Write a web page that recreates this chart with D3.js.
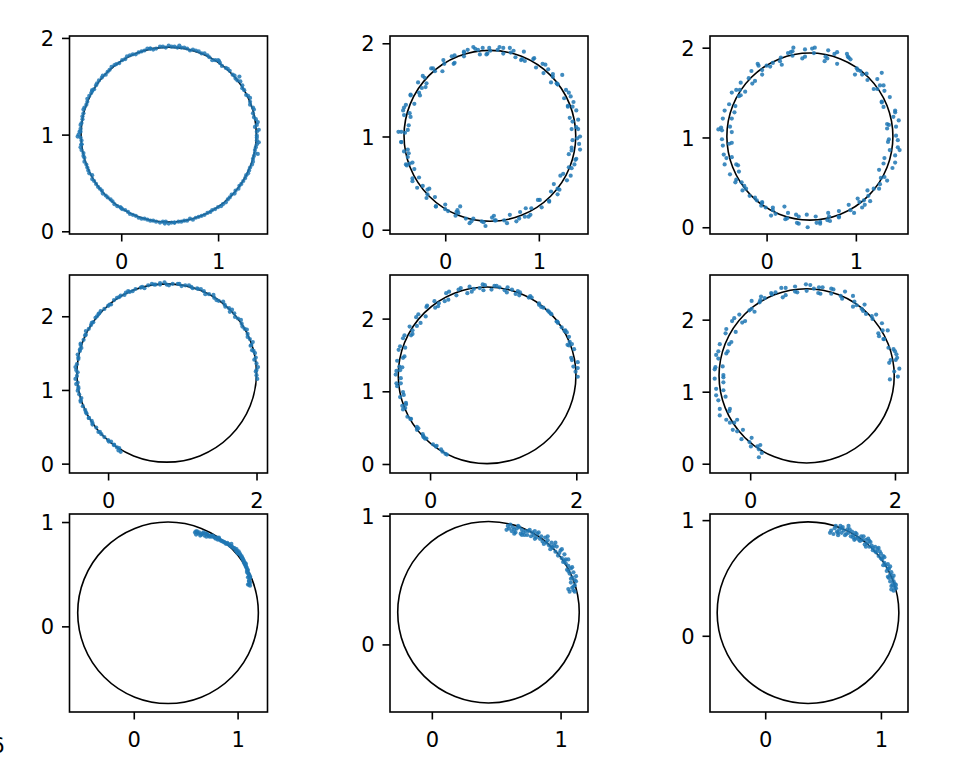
<!DOCTYPE html>
<html><head><meta charset="utf-8">
<script src="https://cdn.jsdelivr.net/npm/d3@7"></script>
<style>body{margin:0;background:#fff}svg{display:block}text{font-family:"DejaVu Sans",sans-serif}</style>
</head><body><svg id="c" width="980" height="770"></svg>
<script>
// ---- data: scatter points per panel [x, y] ----
const pts11 = [[1.40,0.99],[1.38,1.08],[1.41,1.13],[1.37,1.18],[1.37,1.26],[1.33,1.31],[1.33,1.38],[1.29,1.41],[1.25,1.48],[1.23,1.55],[1.18,1.58],[1.15,1.62],[1.10,1.68],[1.04,1.71],[1.01,1.76],[0.94,1.77],[0.89,1.82],[0.83,1.84],[0.77,1.87],[0.71,1.87],[0.65,1.90],[0.58,1.90],[0.52,1.91],[0.46,1.90],[0.40,1.91],[0.33,1.88],[0.27,1.89],[0.21,1.86],[0.15,1.83],[0.09,1.82],[0.04,1.78],[-0.02,1.74],[-0.07,1.72],[-0.12,1.67],[-0.16,1.62],[-0.20,1.59],[-0.25,1.53],[-0.28,1.47],[-0.31,1.43],[-0.35,1.37],[-0.36,1.31],[-0.39,1.26],[-0.40,1.19],[-0.41,1.12],[-0.42,1.06],[-0.44,1.00],[-0.41,0.94],[-0.42,0.87],[-0.39,0.81],[-0.38,0.76],[-0.36,0.69],[-0.34,0.63],[-0.30,0.58],[-0.28,0.52],[-0.24,0.46],[-0.20,0.42],[-0.16,0.37],[-0.11,0.33],[-0.07,0.28],[-0.01,0.25],[0.04,0.22],[0.09,0.18],[0.15,0.16],[0.21,0.13],[0.27,0.12],[0.33,0.11],[0.40,0.09],[0.46,0.10],[0.52,0.09],[0.59,0.10],[0.65,0.11],[0.71,0.13],[0.77,0.14],[0.83,0.16],[0.89,0.19],[0.94,0.22],[1.00,0.25],[1.05,0.28],[1.10,0.33],[1.14,0.38],[1.18,0.42],[1.22,0.47],[1.26,0.52],[1.29,0.58],[1.32,0.63],[1.35,0.69],[1.36,0.75],[1.38,0.81],[1.39,0.87],[1.40,0.94],
[1.40,1.03],[1.36,1.22],[1.31,1.40],[1.20,1.56],[1.08,1.69],[0.91,1.80],[0.74,1.88],[0.55,1.91],[0.36,1.89],[0.18,1.85],[0.01,1.77],[-0.14,1.65],[-0.26,1.51],[-0.35,1.34],[-0.40,1.16],[-0.42,0.97],[-0.39,0.78],[-0.33,0.60],[-0.22,0.44],[-0.09,0.31],[0.07,0.20],[0.24,0.13],[0.43,0.10],[0.62,0.10],[0.80,0.15],[0.97,0.23],[1.12,0.35],[1.24,0.49],[1.33,0.66],[1.38,0.84],
[1.40,1.10],[1.36,1.28],[1.27,1.46],[1.17,1.61],[1.02,1.74],[0.86,1.84],[0.68,1.89],[0.49,1.92],[0.30,1.89],[0.12,1.83],[-0.05,1.73],[-0.19,1.61],[-0.30,1.46],[-0.38,1.28],[-0.42,1.10],[-0.41,0.90],[-0.38,0.72],[-0.30,0.54],[-0.19,0.39],[-0.04,0.26],[0.12,0.17],[0.30,0.11],[0.49,0.08],[0.68,0.11],[0.86,0.17],[1.03,0.26],[1.17,0.39],[1.28,0.55],[1.36,0.72],[1.40,0.90],
[1.39,1.16],[1.33,1.34],[1.25,1.51],[1.12,1.66],[0.97,1.77],[0.80,1.86],[0.62,1.90],[0.43,1.91],[0.24,1.87],[0.06,1.81],[-0.10,1.70],[-0.23,1.56],[-0.33,1.40],[-0.39,1.22],[-0.42,1.03],[-0.41,0.84],[-0.35,0.66],[-0.26,0.49],[-0.14,0.35],[0.01,0.23],[0.18,0.14],[0.36,0.10],[0.55,0.09],[0.74,0.12],[0.92,0.20],[1.08,0.30],[1.21,0.44],[1.31,0.60],[1.37,0.78],[1.40,0.97],
[1.22,1.60],[1.42,1.05],[1.41,0.80],[0.60,1.92],[0.30,1.89],[-0.43,1.03],[-0.45,0.98],[0.45,0.08],[0.55,0.09],[-0.30,1.45],[0.00,0.24],[1.00,1.77],[1.42,0.92],[-0.41,0.90]];

const pts12 = [[1.41,0.98],[1.35,1.08],[1.42,1.18],[1.36,1.16],[1.40,1.28],[1.31,1.32],[1.34,1.43],[1.27,1.41],[1.29,1.50],[1.19,1.57],[1.20,1.56],[1.15,1.67],[1.05,1.68],[1.07,1.77],[0.97,1.74],[0.95,1.84],[0.85,1.81],[0.84,1.91],[0.75,1.85],[0.73,1.92],[0.62,1.89],[0.58,1.96],[0.48,1.92],[0.47,1.95],[0.37,1.88],[0.35,1.93],[0.24,1.93],[0.20,1.86],[0.10,1.87],[0.10,1.79],[-0.02,1.82],[-0.01,1.78],[-0.11,1.70],[-0.13,1.73],[-0.22,1.63],[-0.20,1.57],[-0.29,1.58],[-0.28,1.47],[-0.37,1.45],[-0.33,1.35],[-0.42,1.34],[-0.38,1.25],[-0.44,1.23],[-0.39,1.12],[-0.50,1.05],[-0.43,1.04],[-0.47,0.94],[-0.40,0.86],[-0.44,0.84],[-0.38,0.71],[-0.42,0.70],[-0.33,0.65],[-0.35,0.55],[-0.28,0.56],[-0.30,0.45],[-0.19,0.43],[-0.20,0.34],[-0.11,0.35],[-0.10,0.25],[0.00,0.27],[0.00,0.22],[0.11,0.15],[0.12,0.19],[0.16,0.25],[0.28,0.09],[0.30,0.12],[0.41,0.08],[0.43,0.04],[0.53,0.10],[0.54,0.10],[0.66,0.07],[0.69,0.16],[0.79,0.12],[0.80,0.19],[0.91,0.16],[0.92,0.23],[1.03,0.24],[1.01,0.32],[1.11,0.31],[1.13,0.41],[1.22,0.43],[1.20,0.44],[1.30,0.53],[1.26,0.60],[1.35,0.66],[1.32,0.67],[1.40,0.76],[1.35,0.85],[1.44,0.86],[1.36,0.96],
[1.42,1.08],[1.31,1.33],[1.32,1.47],[1.13,1.58],[1.04,1.78],[0.81,1.82],[0.69,1.95],[0.45,1.89],[0.32,1.94],[0.07,1.86],[-0.03,1.70],[-0.24,1.65],[-0.27,1.44],[-0.44,1.31],[-0.40,1.07],[-0.47,0.94],[-0.35,0.72],[-0.35,0.52],[-0.17,0.44],[-0.10,0.25],[0.13,0.21],[0.26,0.07],[0.50,0.13],[0.63,0.10],[0.89,0.14],[0.99,0.32],[1.20,0.38],[1.23,0.58],[1.39,0.75],[1.35,0.88],
[1.33,1.20],[1.36,1.32],[1.20,1.56],[1.15,1.64],[0.94,1.83],[0.82,1.83],[0.56,1.93],[0.44,1.88],[0.20,1.91],[0.09,1.78],[-0.15,1.73],[-0.21,1.53],[-0.37,1.44],[-0.37,1.21],[-0.47,1.05],[-0.39,0.82],[-0.41,0.69],[-0.24,0.47],[-0.19,0.38],[0.03,0.20],[0.14,0.18],[0.39,0.09],[0.52,0.15],[0.76,0.09],[0.86,0.23],[1.11,0.30],[1.16,0.49],[1.34,0.58],[1.32,0.81],[1.44,1.00],
[1.25,1.66],[1.43,0.92],[1.40,1.10],[0.62,1.95],[0.20,1.90],[0.30,1.96],[-0.45,1.28],[0.70,1.90],[1.38,0.70],[1.10,1.72],[-0.40,0.78],[0.22,0.12],[0.85,0.14],[-0.25,1.52],[0.40,1.95],[1.37,1.37]];

const pts13 = [[1.47,0.97],[1.35,1.10],[1.48,1.19],[1.37,1.14],[1.44,1.30],[1.31,1.34],[1.38,1.45],[1.29,1.40],[1.32,1.52],[1.20,1.54],[1.27,1.58],[1.12,1.71],[1.13,1.64],[1.01,1.77],[1.05,1.74],[0.92,1.89],[0.94,1.87],[0.79,1.82],[0.79,1.95],[0.68,1.88],[0.69,1.97],[0.53,1.94],[0.54,2.00],[0.43,1.90],[0.43,1.98],[0.29,1.91],[0.29,1.96],[0.15,1.85],[0.16,1.89],[0.04,1.79],[0.07,1.83],[-0.09,1.80],[-0.05,1.70],[-0.17,1.74],[-0.13,1.63],[-0.29,1.61],[-0.24,1.51],[-0.34,1.53],[-0.29,1.47],[-0.42,1.37],[-0.36,1.28],[-0.47,1.30],[-0.39,1.21],[-0.51,1.11],[-0.41,1.12],[-0.54,1.09],[-0.42,0.93],[-0.49,0.91],[-0.39,0.78],[-0.45,0.77],[-0.34,0.70],[-0.41,0.59],[-0.31,0.62],[-0.35,0.50],[-0.23,0.43],[-0.25,0.46],[-0.13,0.33],[-0.19,0.35],[-0.06,0.24],[-0.05,0.28],[0.07,0.22],[0.05,0.13],[0.20,0.23],[0.23,0.10],[0.24,0.16],[0.36,0.04],[0.36,0.12],[0.46,0.00],[0.55,0.12],[0.56,0.05],[0.70,0.12],[0.68,0.08],[0.81,0.18],[0.81,0.11],[0.94,0.19],[0.92,0.25],[1.07,0.22],[1.02,0.32],[1.16,0.29],[1.13,0.41],[1.26,0.43],[1.20,0.43],[1.32,0.56],[1.28,0.55],[1.41,0.66],[1.31,0.71],[1.44,0.72],[1.38,0.86],[1.49,0.86],[1.37,0.98],
[1.35,1.15],[1.44,1.28],[1.24,1.54],[1.24,1.65],[0.99,1.70],[0.91,1.90],[0.65,1.85],[0.51,1.99],[0.24,1.94],[0.17,1.81],[-0.10,1.82],[-0.16,1.60],[-0.39,1.50],[-0.35,1.35],[-0.50,1.08],[-0.39,0.94],[-0.47,0.70],[-0.28,0.50],[-0.27,0.41],[-0.01,0.22],[0.07,0.19],[0.34,0.05],[0.45,0.14],[0.71,0.07],[0.81,0.12],[1.09,0.30],[1.14,0.35],[1.35,0.52],[1.32,0.77],[1.47,0.89],
[1.45,1.12],[1.29,1.39],[1.31,1.58],[1.07,1.70],[1.02,1.75],[0.76,1.93],[0.66,1.90],[0.40,1.88],[0.27,1.95],[0.00,1.80],[-0.05,1.75],[-0.30,1.53],[-0.31,1.46],[-0.49,1.21],[-0.39,1.06],[-0.48,0.81],[-0.32,0.69],[-0.34,0.53],[-0.11,0.30],[-0.05,0.27],[0.21,0.09],[0.33,0.14],[0.60,0.04],[0.69,0.16],[0.98,0.16],[1.04,0.28],[1.27,0.48],[1.26,0.64],[1.44,0.80],[1.36,0.95],
[1.29,1.72],[1.45,1.02],[0.30,2.00],[-0.50,0.98],[0.60,0.06],[1.10,0.25],[-0.20,1.66],[0.90,1.93],[1.42,1.23],[0.10,0.15]];

const pts21 = [[2.01,1.15],[1.99,1.25],[2.02,1.31],[1.97,1.41],[1.98,1.50],[1.94,1.54],[1.95,1.65],[1.88,1.72],[1.87,1.82],[1.81,1.86],[1.79,1.95],[1.71,1.99],[1.67,2.09],[1.58,2.13],[1.55,2.20],[1.46,2.22],[1.42,2.29],[1.31,2.30],[1.25,2.37],[1.14,2.38],[1.09,2.42],[0.99,2.41],[0.94,2.44],[0.82,2.42],[0.76,2.46],[0.64,2.43],[0.59,2.44],[0.49,2.38],[0.44,2.39],[0.33,2.34],[0.27,2.34],[0.17,2.28],[0.12,2.25],[0.04,2.16],[0.00,2.14],[-0.10,2.07],[-0.13,2.03],[-0.20,1.92],[-0.23,1.88],[-0.30,1.80],[-0.31,1.74],[-0.37,1.63],[-0.36,1.57],[-0.41,1.48],[-0.40,1.42],[-0.44,1.31],[-0.41,1.24],[-0.44,1.15],[-0.40,1.04],[-0.41,0.99],[-0.36,0.89],[-0.37,0.84],[-0.31,0.73],[-0.29,0.68],[-0.22,0.58],[-0.21,0.53],[-0.13,0.43],[-0.09,0.40],[0.00,0.32],[0.04,0.30],[0.12,0.22],[0.17,0.16],
[2.00,1.27],[1.96,1.53],[1.88,1.76],[1.75,1.97],[1.57,2.16],[1.36,2.30],[1.12,2.40],[0.87,2.44],[0.62,2.43],[0.37,2.37],[0.15,2.26],[-0.05,2.10],[-0.22,1.91],[-0.33,1.68],[-0.40,1.44],[-0.42,1.19],[-0.39,0.94],[-0.30,0.70],[-0.16,0.49],[0.01,0.30],
[2.00,1.36],[1.93,1.61],[1.84,1.83],[1.70,2.04],[1.49,2.21],[1.29,2.34],[1.04,2.42],[0.79,2.43],[0.54,2.42],[0.29,2.33],[0.08,2.22],[-0.12,2.04],[-0.26,1.83],[-0.37,1.61],[-0.42,1.35],[-0.41,1.10],[-0.37,0.86],[-0.26,0.62],[-0.11,0.43],[0.08,0.25],
[1.99,1.44],[1.91,1.69],[1.80,1.90],[1.63,2.11],[1.43,2.25],[1.21,2.37],[0.96,2.44],[0.70,2.43],[0.46,2.40],[0.22,2.29],[0.02,2.16],[-0.17,1.98],[-0.30,1.75],[-0.38,1.53],[-0.43,1.27],[-0.40,1.02],[-0.34,0.78],[-0.21,0.55],[-0.05,0.36],[0.15,0.21],
[2.00,1.20],[1.92,1.60],[1.64,2.06],[1.20,2.38],[0.70,2.45],[0.24,2.32],[-0.15,2.00],[-0.38,1.55],[-0.43,1.08],[-0.26,0.62],[0.08,0.26],[0.14,0.18]];

const pts22 = [[2.02,1.20],[1.96,1.34],[2.02,1.40],[1.94,1.43],[1.97,1.58],[1.88,1.64],[1.91,1.68],[1.84,1.83],[1.85,1.84],[1.73,1.96],[1.74,1.96],[1.63,2.09],[1.61,2.11],[1.49,2.21],[1.49,2.19],[1.37,2.31],[1.35,2.29],[1.20,2.38],[1.17,2.34],[1.06,2.43],[1.02,2.39],[0.88,2.45],[0.84,2.40],[0.72,2.47],[0.68,2.42],[0.54,2.44],[0.51,2.35],[0.39,2.40],[0.36,2.32],[0.22,2.35],[0.20,2.24],[0.06,2.24],[0.07,2.15],[-0.05,2.16],[-0.06,2.03],[-0.19,2.02],[-0.18,1.90],[-0.28,1.89],[-0.26,1.77],[-0.37,1.73],[-0.34,1.60],[-0.43,1.57],[-0.37,1.46],[-0.45,1.42],[-0.41,1.29],[-0.47,1.23],[-0.40,1.11],[-0.45,1.07],[-0.36,0.95],[-0.41,0.92],[-0.34,0.77],[-0.37,0.75],[-0.26,0.62],[-0.27,0.62],[-0.16,0.49],[-0.18,0.47],[-0.07,0.35],[-0.05,0.35],[0.08,0.24],[0.09,0.25],[0.21,0.14],[0.23,0.13],
[2.02,1.32],[1.90,1.63],[1.87,1.81],[1.65,2.07],[1.52,2.16],[1.23,2.36],[1.05,2.36],[0.75,2.46],[0.57,2.37],[0.26,2.37],[0.11,2.17],[-0.16,2.06],[-0.24,1.79],[-0.41,1.62],[-0.38,1.33],[-0.46,1.11],[-0.33,0.82],[-0.31,0.65],[-0.09,0.37],[0.04,0.27],
[1.93,1.46],[1.94,1.65],[1.75,1.94],[1.66,2.06],[1.39,2.29],[1.22,2.32],[0.91,2.45],[0.73,2.39],[0.42,2.42],[0.25,2.26],[-0.04,2.18],[-0.13,1.94],[-0.35,1.77],[-0.35,1.48],[-0.46,1.28],[-0.37,0.99],[-0.38,0.80],[-0.18,0.51],[-0.09,0.38],[0.17,0.17],
[1.99,1.27],[1.90,1.75],[1.55,2.15],[1.12,2.40],[0.60,2.41],[0.12,2.21],[-0.24,1.84],[-0.42,1.34],[-0.33,0.84],[-0.10,0.41],[0.15,0.20],[1.80,1.88],[0.95,2.43],[-0.40,1.18]];

const pts23 = [[2.04,1.21],[1.93,1.17],[2.06,1.32],[1.94,1.44],[2.01,1.44],[1.91,1.61],[1.98,1.59],[1.84,1.73],[1.90,1.85],[1.77,1.81],[1.82,1.95],[1.68,2.05],[1.69,2.01],[1.54,2.15],[1.58,2.21],[1.42,2.18],[1.42,2.33],[1.25,2.33],[1.27,2.29],[1.12,2.43],[1.12,2.36],[0.95,2.45],[0.94,2.37],[0.77,2.49],[0.78,2.40],[0.62,2.46],[0.62,2.39],[0.43,2.44],[0.45,2.31],[0.29,2.37],[0.30,2.35],[0.13,2.24],[0.14,2.27],[-0.01,2.13],[0.02,2.15],[-0.15,2.07],[-0.11,1.96],[-0.25,1.98],[-0.20,1.83],[-0.34,1.81],[-0.29,1.66],[-0.42,1.66],[-0.33,1.53],[-0.47,1.51],[-0.38,1.35],[-0.48,1.34],[-0.37,1.20],[-0.49,1.18],[-0.37,1.02],[-0.47,0.95],[-0.34,0.93],[-0.42,0.76],[-0.28,0.76],[-0.33,0.61],[-0.18,0.61],[-0.24,0.47],[-0.10,0.47],[-0.12,0.34],[0.02,0.36],[0.01,0.24],[0.14,0.26],[0.16,0.15],
[1.92,1.40],[2.00,1.56],[1.78,1.77],[1.74,2.07],[1.44,2.25],[1.31,2.39],[0.97,2.36],[0.83,2.48],[0.49,2.34],[0.35,2.38],[0.02,2.26],[-0.07,1.98],[-0.33,1.87],[-0.31,1.56],[-0.49,1.31],[-0.37,1.13],[-0.44,0.88],[-0.22,0.57],[-0.18,0.45],[0.12,0.20],
[2.03,1.47],[1.85,1.73],[1.83,1.85],[1.56,2.12],[1.47,2.20],[1.15,2.42],[1.00,2.45],[0.65,2.38],[0.49,2.44],[0.15,2.32],[0.06,2.11],[-0.22,2.02],[-0.26,1.69],[-0.44,1.56],[-0.37,1.23],[-0.47,1.04],[-0.29,0.73],[-0.28,0.57],[-0.01,0.30],[0.10,0.24],
[0.12,0.09],[-0.42,0.67],[2.02,1.52],[1.60,2.08],[0.20,2.30],[-0.44,1.46],[0.88,2.43],[1.99,1.28]];

const pts31 = [[0.59,0.90],[0.60,0.88],[0.62,0.89],[0.63,0.90],[0.65,0.88],[0.66,0.89],[0.68,0.87],[0.69,0.89],[0.71,0.88],[0.72,0.87],[0.74,0.87],[0.75,0.86],[0.77,0.86],[0.78,0.85],[0.80,0.85],[0.81,0.83],[0.83,0.83],[0.84,0.82],[0.86,0.81],[0.87,0.81],[0.89,0.79],[0.90,0.80],[0.92,0.78],[0.93,0.77],[0.95,0.76],[0.96,0.75],[0.98,0.73],[0.99,0.74],[1.00,0.71],[1.01,0.72],[1.02,0.69],[1.03,0.68],[1.04,0.66],[1.05,0.65],[1.06,0.63],[1.06,0.61],[1.07,0.59],[1.08,0.57],[1.09,0.56],[1.10,0.54],[1.09,0.52],[1.11,0.50],[1.11,0.48],[1.12,0.46],[1.11,0.44],[1.12,0.42],[1.10,0.40],[1.12,0.39],[0.61,0.91],[0.70,0.86],[0.82,0.84],[0.94,0.79],[1.00,0.70],[1.08,0.60],[1.10,0.47],
[0.60,0.91],[0.64,0.87],[0.67,0.90],[0.70,0.89],[0.73,0.86],[0.76,0.87],[0.79,0.84],[0.82,0.85],[0.85,0.82],[0.88,0.80],[0.91,0.79],[0.94,0.77],[0.97,0.75],[0.99,0.72],[1.02,0.70],[1.04,0.67],[1.05,0.64],[1.07,0.61],[1.08,0.58],[1.09,0.54],[1.10,0.51],[1.12,0.48],[1.11,0.43],[1.11,0.40]];

const pts32 = [[0.60,0.90],[0.59,0.92],[0.62,0.88],[0.63,0.91],[0.65,0.87],[0.66,0.90],[0.67,0.92],[0.69,0.86],[0.70,0.89],[0.71,0.87],[0.73,0.88],[0.74,0.85],[0.75,0.88],[0.77,0.84],[0.78,0.87],[0.79,0.85],[0.81,0.83],[0.82,0.86],[0.84,0.82],[0.85,0.84],[0.86,0.80],[0.88,0.83],[0.89,0.79],[0.90,0.81],[0.91,0.77],[0.93,0.79],[0.94,0.75],[0.95,0.77],[0.96,0.72],[0.97,0.76],[0.99,0.71],[1.00,0.73],[1.01,0.67],[1.03,0.70],[1.02,0.64],[1.04,0.66],[1.06,0.61],[1.05,0.58],[1.08,0.59],[1.07,0.55],[1.10,0.56],[1.09,0.52],[1.11,0.50],[1.08,0.48],[1.11,0.46],[1.09,0.44],[1.10,0.42],[1.07,0.41],[0.64,0.89],[0.80,0.88],[0.92,0.74],[1.04,0.63],[1.12,0.53],
[0.58,0.89],[0.61,0.93],[0.64,0.86],[0.68,0.91],[0.72,0.85],[0.76,0.89],[0.80,0.82],[0.83,0.87],[0.87,0.78],[0.90,0.84],[0.93,0.76],[0.96,0.79],[0.98,0.69],[1.01,0.74],[1.03,0.65],[1.06,0.66],[1.06,0.57],[1.09,0.60],[1.08,0.51],[1.12,0.49],[1.10,0.45],[1.06,0.43],[1.11,0.41],[0.70,0.85]];

const pts33 = [[0.57,0.91],[0.59,0.88],[0.60,0.93],[0.62,0.90],[0.63,0.87],[0.64,0.92],[0.66,0.89],[0.67,0.94],[0.68,0.91],[0.70,0.88],[0.71,0.92],[0.72,0.89],[0.74,0.86],[0.75,0.90],[0.76,0.87],[0.78,0.84],[0.79,0.88],[0.80,0.85],[0.82,0.82],[0.83,0.86],[0.84,0.83],[0.86,0.79],[0.87,0.83],[0.88,0.80],[0.90,0.77],[0.91,0.81],[0.92,0.78],[0.93,0.74],[0.95,0.77],[0.96,0.72],[0.97,0.75],[0.98,0.69],[1.00,0.71],[1.01,0.66],[1.02,0.69],[1.03,0.63],[1.04,0.61],[1.06,0.62],[1.05,0.56],[1.07,0.58],[1.08,0.53],[1.09,0.55],[1.10,0.50],[1.08,0.47],[1.11,0.47],[1.09,0.43],[1.12,0.42],[1.11,0.39],[1.13,0.41],[0.65,0.95],[0.77,0.83],[0.89,0.84],[0.99,0.73],[1.06,0.51],[1.12,0.45],
[0.56,0.89],[0.61,0.95],[0.63,0.89],[0.66,0.93],[0.69,0.87],[0.73,0.92],[0.76,0.85],[0.78,0.89],[0.81,0.83],[0.85,0.86],[0.87,0.77],[0.90,0.82],[0.93,0.76],[0.95,0.73],[0.98,0.76],[1.00,0.67],[1.03,0.68],[1.02,0.61],[1.06,0.58],[1.08,0.60],[1.07,0.50],[1.11,0.52],[1.10,0.44],[1.13,0.44],[1.09,0.40],[0.72,0.95]];

// fitted circles [cx, cy, r]
const circles = [[0.49,1.00,0.905],[0.477,1.007,0.917],[0.485,1.01,0.93],
                 [0.79,1.23,1.21],[0.78,1.22,1.215],[0.78,1.22,1.21],
                 [0.33,0.13,0.87],[0.44,0.25,0.705],[0.37,0.20,0.785]];
// axis limits
const xDomains = [[-0.534,1.51],[-0.59,1.525],[-0.634,1.584],
                  [-0.52,2.148],[-0.548,2.16],[-0.555,2.18],
                  [-0.619,1.288],[-0.325,1.213],[-0.477,1.234]];
const yDomains = [[-0.028,2.02],[-0.046,2.078],[-0.075,2.13],
                  [-0.127,2.56],[-0.124,2.60],[-0.129,2.62],
                  [-0.821,1.077],[-0.525,1.013],[-0.659,1.053]];
// tick labels
const xTicks = [[0,1],[0,1],[0,1],[0,2],[0,2],[0,2],[0,1],[0,1],[0,1]];
const yTicks = [[0,1,2],[0,1,2],[0,1,2],[0,1,2],[0,1,2],[0,1,2],[0,1],[0,1],[0,1]];
const points = [pts11,pts12,pts13,pts21,pts22,pts23,pts31,pts32,pts33];

// ---- layout ----
const colLeft = [69.5, 390, 710];
const rowTop = [36, 275, 514];
const W = 198, H = 198;
const svg = d3.select("#c");
const FS = 21;

points.forEach((pts, i) => {
  const r = Math.floor(i / 3), c = i % 3;
  const L = colLeft[c], T = rowTop[r];
  const x = d3.scaleLinear().domain(xDomains[i]).range([L, L + W]);
  const y = d3.scaleLinear().domain(yDomains[i]).range([T + H, T]);
  const g = svg.append("g");
  g.append("rect").attr("x", L).attr("y", T).attr("width", W).attr("height", H).attr("fill", "#fff");
  const [cx, cy, rr] = circles[i];
  g.append("ellipse")
    .attr("cx", x(cx)).attr("cy", y(cy))
    .attr("rx", x(cx + rr) - x(cx)).attr("ry", y(cy) - y(cy + rr))
    .attr("fill", "none").attr("stroke", "#000").attr("stroke-width", 1.6);
  g.append("g").selectAll("circle").data(pts).join("circle")
    .attr("cx", d => x(d[0])).attr("cy", d => y(d[1]))
    .attr("r", 2.1).attr("fill", "#1f77b4").attr("fill-opacity", 0.85);
  const ax = g.append("g").attr("transform", `translate(0,${T + H})`)
    .call(d3.axisBottom(x).tickValues(xTicks[i]).tickFormat(d3.format("d")).tickSize(7.5).tickPadding(13));
  const ay = g.append("g").attr("transform", `translate(${L},0)`)
    .call(d3.axisLeft(y).tickValues(yTicks[i]).tickFormat(d3.format("d")).tickSize(7.5).tickPadding(8));
  [ax, ay].forEach(a => {
    a.select(".domain").remove();
    a.selectAll(".tick line").attr("stroke", "#000").attr("stroke-width", 1.6);
    a.selectAll(".tick text").attr("fill", "#000").style("font-size", FS + "px").style("font-family", "DejaVu Sans");
  });
  ay.selectAll(".tick text").attr("dy", "0.36em");
  g.append("rect").attr("x", L).attr("y", T).attr("width", W).attr("height", H)
    .attr("fill", "none").attr("stroke", "#000").attr("stroke-width", 1.6);
});

// partly visible text fragment at the lower-left edge (as in the reference)
svg.append("text").attr("x", 4.5).attr("y", 753).attr("text-anchor", "end")
  .style("font-size", FS + "px").attr("fill", "#000").text("6");
</script></body></html>
